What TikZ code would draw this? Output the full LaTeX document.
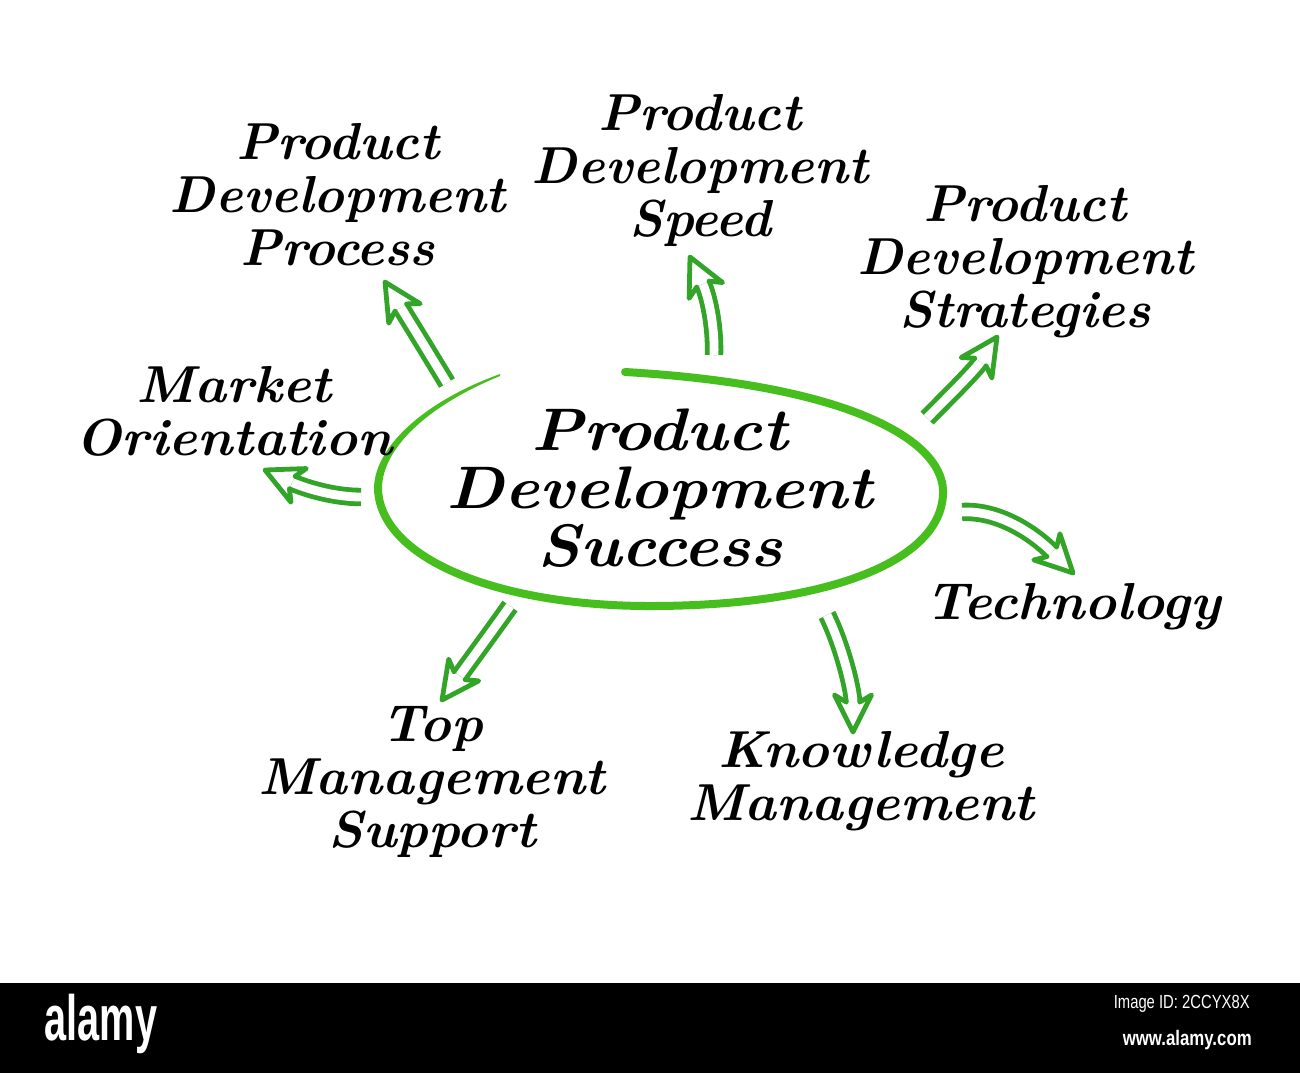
\documentclass[tikz,border=0pt]{standalone}
\usepackage{fontspec}
\newfontfamily\wmfont{Liberation Sans}
\usetikzlibrary{calc}
\definecolor{ringgreen}{RGB}{70,190,30}
\definecolor{arrowgreen}{RGB}{50,165,40}
\newcommand\lblfont{\fontsize{26}{26.5}\selectfont\bfseries\itshape}
\newcommand\ctrfont{\fontsize{30}{29}\selectfont\bfseries\itshape}
\tikzset{
  arrowshaft/.style={draw=arrowgreen, line width=2.4pt, double=white, double distance=4.4pt},
  arrowhead/.style={draw=arrowgreen, line width=2.4pt, line join=round, line cap=round},
  lbl/.style={align=center, font=\lblfont, text=black, inner sep=0pt},
  ring/.style={draw=ringgreen, line width=4pt, line cap=round}
}
\newcommand\hollowarrow[4]{%
  \draw[arrowshaft] (#1) .. controls (#2) and (#3) .. ($(#4)!15pt!(#3)$);
  \pgfmathanglebetweenpoints{\pgfpointanchor{#3}{center}}{\pgfpointanchor{#4}{center}}%
  \let\harrowangle\pgfmathresult
  \begin{scope}[shift={(#4)}, rotate=\harrowangle]
    \draw[arrowhead] (-30,6.8) -- (-37,18.5) -- (0,0) -- (-37,-18.5) -- (-30,-6.8);
  \end{scope}}
\begin{document}
\begin{tikzpicture}[x=0.5pt,y=-0.5pt]
\useasboundingbox (0,0) rectangle (1300,1073);
\fill[white] (0,0) rectangle (1300,1073);

% central loop (tapered start, then full stroke)
\fill[ringgreen] (500,374) .. controls (420,403) and (373,450) .. (374,490)
  -- (382,490) .. controls (381,452) and (422,408) .. (500,376) -- cycle;
\draw[ring] (378,490)
  .. controls (382,560) and (500,606) .. (650,606)
  .. controls (830,606) and (945,560) .. (943,490)
  .. controls (941,440) and (850,385) .. (625,372);

\node[lbl, font=\ctrfont, xscale=1.1] (success) at (660,488) {Product\\Development\\Success};

% labels
\node[lbl] (process) at (338,195) {Product\\Development\\Process};
\node[lbl] (speed) at (700,170) {Product\\Development\\Speed};
\node[lbl] (strategies) at (1025,262) {Product\\Development\\Strategies};
\node[lbl, xscale=1.04] (market) at (234,411) {Market\\Orientation};
\node[lbl, xscale=1.04] (technology) at (1073,607) {Technology};
\node[lbl, xscale=1.03] (topmgmt) at (432,782) {Top\\Management\\Support};
\node[lbl, xscale=1.03] (knowledge) at (861,781) {Knowledge\\Management};

% arrow coordinates
\coordinate (p0) at (447,383); \coordinate (p1) at (430,355); \coordinate (p2) at (416,332); \coordinate (p3) at (385,282);
\coordinate (s0) at (714,355); \coordinate (s1) at (715,325); \coordinate (s2) at (708,295); \coordinate (s3) at (690,257);
\coordinate (g0) at (927,418); \coordinate (g1) at (950,395); \coordinate (g2) at (975,370); \coordinate (g3) at (997,337);
\coordinate (t0) at (962,512); \coordinate (t1) at (1000,510); \coordinate (t2) at (1035,535); \coordinate (t3) at (1073,573);
\coordinate (k0) at (827,615); \coordinate (k1) at (842,645); \coordinate (k2) at (853,690); \coordinate (k3) at (853,732);
\coordinate (m0) at (510,606); \coordinate (m1) at (493,630); \coordinate (m2) at (476,653); \coordinate (m3) at (442,700);
\coordinate (o0) at (361,497); \coordinate (o1) at (330,497); \coordinate (o2) at (300,486); \coordinate (o3) at (265,470);

\hollowarrow{p0}{p1}{p2}{p3}
\hollowarrow{s0}{s1}{s2}{s3}
\hollowarrow{g0}{g1}{g2}{g3}
\hollowarrow{t0}{t1}{t2}{t3}
\hollowarrow{k0}{k1}{k2}{k3}
\hollowarrow{m0}{m1}{m2}{m3}
\hollowarrow{o0}{o1}{o2}{o3}

% watermark bar
\fill[black] (0,983) rectangle (1300,1073);
\node[text=white, font=\wmfont\bfseries\fontsize{32}{32}\selectfont, xscale=0.62, inner sep=0pt] (alamy) at (101,1024) {alamy};
\node[text=white, font=\wmfont\fontsize{9.5}{9.5}\selectfont, xscale=0.78, inner sep=0pt, anchor=east] (imgid) at (1250,1004) {Image ID: 2CCYX8X};
\node[text=white, font=\wmfont\bfseries\fontsize{10.5}{10.5}\selectfont, xscale=0.8, inner sep=0pt, anchor=east] (web) at (1252,1040) {www.alamy.com};
\end{tikzpicture}
\end{document}
